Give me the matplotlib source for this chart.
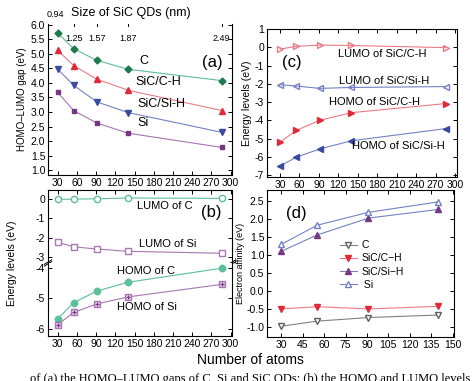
import numpy as np
import matplotlib
matplotlib.use("Agg")
import matplotlib.pyplot as plt
import matplotlib.transforms as mtransforms

plt.rcParams['font.family'] = ['Liberation Sans', 'DejaVu Sans']
plt.rcParams['axes.unicode_minus'] = False
plt.rcParams['xtick.direction'] = 'in'
plt.rcParams['ytick.direction'] = 'in'
plt.rcParams['xtick.labelsize'] = 7.5
plt.rcParams['ytick.labelsize'] = 7.5
plt.rcParams['axes.linewidth'] = 0.8

# number of atoms in the QDs
atoms = [30, 55, 91, 140, 286]
atoms_d = [30, 55, 91, 140]
qd_size = ['0.94', '1.25', '1.57', '1.87', '2.49']

# (a) HOMO-LUMO gap (eV)
gap_c = [5.72, 5.18, 4.78, 4.47, 4.08]
gap_sic_ch = [5.12, 4.60, 4.13, 3.75, 3.05]
gap_sic_sih = [4.48, 3.92, 3.35, 2.98, 2.30]
gap_si = [3.68, 3.05, 2.62, 2.27, 1.78]

# (b) energy levels of C and Si QDs (eV)
lumo_c = [-0.03, -0.02, 0.0, 0.04, 0.02]
lumo_si = [-2.23, -2.47, -2.58, -2.70, -2.80]
homo_c = [-5.67, -5.14, -4.76, -4.47, -4.01]
homo_si = [-5.86, -5.46, -5.18, -4.95, -4.54]

# (c) energy levels of SiC QDs (eV)
lumo_sic_ch = [-0.10, 0.05, 0.12, 0.10, -0.02]
lumo_sic_sih = [-2.05, -2.12, -2.25, -2.20, -2.15]
homo_sic_ch = [-5.20, -4.55, -4.00, -3.58, -3.08]
homo_sic_sih = [-6.50, -6.02, -5.57, -5.12, -4.45]

# (d) electron affinity (eV)
ea_c = [-0.98, -0.84, -0.74, -0.67]
ea_sic_ch = [-0.50, -0.44, -0.50, -0.43]
ea_sic_sih = [1.10, 1.55, 2.02, 2.26]
ea_si = [1.29, 1.82, 2.18, 2.47]

W, H = 474, 381
fig = plt.figure(figsize=(W / 100, H / 100), dpi=100)


def box(l, t, r, b):
    return [l / W, 1 - b / H, (r - l) / W, (b - t) / H]


def style(ax):
    ax.tick_params(top=True, right=True, length=3, width=0.7, pad=2)


GREEN_M, GREEN_L = '#1e7a4c', '#5cbf98'
RED_M, RED_L = '#e02a3a', '#ea7c86'
BLUE_M, BLUE_L = '#3a4a9e', '#7482c4'
PURP_M, PURP_L = '#763884', '#a877b4'

lw = 0.8
ms = 4.5

# ---------------- (a) ----------------
ax_a = fig.add_axes(box(48, 24, 232, 175))
ax_a.plot(atoms, gap_c, '-D', color=GREEN_L, mfc=GREEN_M, mec=GREEN_M, ms=ms - 1, lw=lw)
ax_a.plot(atoms, gap_sic_ch, '-^', color=RED_L, mfc=RED_M, mec=RED_M, ms=ms, lw=lw)
ax_a.plot(atoms, gap_sic_sih, '-v', color=BLUE_L, mfc=BLUE_M, mec=BLUE_M, ms=ms, lw=lw)
ax_a.plot(atoms, gap_si, '-s', color=PURP_L, mfc=PURP_M, mec=PURP_M, ms=ms - 1, lw=lw)
ax_a.set_xlim(15, 302)
ax_a.set_ylim(0.83, 6.03)
ax_a.set_xticks(np.arange(30, 301, 30))
ax_a.set_yticks(np.arange(1.0, 6.01, 0.5))
ax_a.yaxis.set_major_formatter(matplotlib.ticker.FormatStrFormatter('%.1f'))
ax_a.tick_params(right=True, length=3, width=0.7, pad=2)
ax_a.spines['top'].set_visible(False)
ax_a.set_ylabel('HOMO\u2013LUMO gap (eV)', fontsize=7, labelpad=3)
ax_a.text(157, 4.65, 'C', fontsize=9)
ax_a.text(152, 3.93, 'SiC/C-H', fontsize=9)
ax_a.text(154, 3.17, 'SiC/Si-H', fontsize=9)
ax_a.text(154, 2.51, 'Si', fontsize=9)
ax_a.text(271, 4.72, '(a)', fontsize=12, ha='center', va='center')
trans = mtransforms.blended_transform_factory(ax_a.transData, ax_a.transAxes)
for i, (x, s) in enumerate(zip(atoms, qd_size)):
    yy = 1.03 if i == 0 else 0.905
    xx = 26 if i == 0 else x
    ax_a.text(xx, yy, s, transform=trans, ha='center', va='bottom' if i == 0 else 'center',
              fontsize=6.5)
    if i > 0:
        ax_a.plot([x, x], [0.985, 1.0], color='black', lw=0.7, transform=trans, clip_on=False)
ax_a.text(0.45, 1.03, 'Size of SiC QDs (nm)', transform=ax_a.transAxes, ha='center',
          va='bottom', fontsize=9)

# ---------------- (c) ----------------
ax_c = fig.add_axes(box(267, 29, 457, 177))
ax_c.plot(atoms, lumo_sic_ch, '->', color=RED_L, mfc='none', mec=RED_L, ms=ms, lw=lw)
ax_c.plot(atoms, lumo_sic_sih, '-<', color=BLUE_L, mfc='none', mec=BLUE_L, ms=ms, lw=lw)
ax_c.plot(atoms, homo_sic_ch, '->', color=RED_L, mfc=RED_M, mec=RED_M, ms=ms, lw=lw)
ax_c.plot(atoms, homo_sic_sih, '-<', color=BLUE_L, mfc=BLUE_M, mec=BLUE_M, ms=ms, lw=lw)
ax_c.set_xlim(10, 303)
ax_c.set_ylim(-7.1, 1.0)
ax_c.set_xticks(np.arange(30, 301, 30))
ax_c.set_yticks(np.arange(-7, 1.1, 1))
style(ax_c)
ax_c.set_ylabel('Energy levels (eV)', fontsize=7.5, labelpad=2)
ax_c.text(119, -0.37, 'LUMO of SiC/C-H', fontsize=8, va='center')
ax_c.text(33, -0.83, '(c)', fontsize=12, va='center')
ax_c.text(121, -1.83, 'LUMO of SiC/Si-H', fontsize=8, va='center')
ax_c.text(106, -3.0, 'HOMO of SiC/C-H', fontsize=8, va='center')
ax_c.text(141, -5.41, 'HOMO of SiC/Si-H', fontsize=8, va='center')

# ---------------- (b) broken axis ----------------
ax_bt = fig.add_axes(box(48, 190, 232, 263))
ax_bb = fig.add_axes(box(48, 263, 232, 336))
for ax in (ax_bt, ax_bb):
    ax.plot(atoms, lumo_c, '-o', color=GREEN_L, mfc='white', mec=GREEN_L, ms=ms, lw=lw)
    ax.plot(atoms, lumo_si, '-s', color=PURP_L, mfc='white', mec=PURP_L, ms=ms - 0.5, lw=lw)
    ax.plot(atoms, homo_c, '-o', color=GREEN_L, mfc='#bfe8d6', mec=GREEN_L, ms=ms, lw=lw)
    ax.plot(atoms, homo_c, 'P', color=GREEN_L, ms=ms - 0.5, lw=0)
    ax.plot(atoms, homo_si, '-s', color=PURP_L, mfc='#e3cbe8', mec=PURP_L, ms=ms - 0.5, lw=lw)
    ax.plot(atoms, homo_si, '+', color=PURP_M, ms=ms - 1, mew=0.8)
    ax.set_xlim(15, 302)
    ax.set_xticks(np.arange(30, 301, 30))
    style(ax)
ax_bt.set_ylim(-3.3, 0.45)
ax_bt.set_yticks([0, -1, -2, -3])
ax_bt.spines['bottom'].set_visible(False)
ax_bt.tick_params(bottom=False, labelbottom=False)
ax_bb.set_ylim(-6.23, -3.84)
ax_bb.set_yticks([-4, -5, -6])
ax_bb.spines['top'].set_visible(False)
ax_bb.tick_params(top=False)
for xa in (0, 1):
    for dy in (-0.012, 0.012):
        ax_bt.plot([xa - 0.02, xa + 0.02], [dy - 0.03, dy + 0.03], color='black', lw=0.7,
                   transform=ax_bt.transAxes, clip_on=False)
ax_bt.text(154, -0.38, 'LUMO of C', fontsize=8, va='center')
ax_bt.text(269, -0.7, '(b)', fontsize=12, ha='center', va='center')
ax_bt.text(157, -2.31, 'LUMO of Si', fontsize=8, va='center')
ax_bb.text(123, -4.11, 'HOMO of C', fontsize=8, va='center')
ax_bb.text(122, -5.29, 'HOMO of Si', fontsize=8, va='center')
fig.text(12 / W, 1 - 263 / H, 'Energy levels (eV)', rotation=90, ha='center', va='center',
         fontsize=7.5)

# ---------------- (d) ----------------
ax_d = fig.add_axes(box(267, 190, 454, 337))
ax_d.plot(atoms_d, ea_c, '-v', color='#808080', mfc='white', mec='#606060', ms=ms, lw=lw, label='C')
ax_d.plot(atoms_d, ea_sic_ch, '-v', color=RED_L, mfc=RED_M, mec=RED_M, ms=ms, lw=lw, label='SiC/C\u2212H')
ax_d.plot(atoms_d, ea_sic_sih, '-^', color=BLUE_L, mfc=PURP_M, mec=PURP_M, ms=ms, lw=lw, label='SiC/Si\u2212H')
ax_d.plot(atoms_d, ea_si, '-^', color=BLUE_L, mfc='white', mec=BLUE_L, ms=ms, lw=lw, label=' Si')
ax_d.set_xlim(20, 151)
ax_d.set_ylim(-1.28, 2.8)
ax_d.set_xticks(np.arange(30, 151, 15))
ax_d.set_yticks(np.arange(-1.0, 2.51, 0.5))
ax_d.yaxis.set_major_formatter(matplotlib.ticker.FormatStrFormatter('%.1f'))
style(ax_d)
ax_d.set_ylabel('Electron affinity (eV)', fontsize=6.5, labelpad=1)
ax_d.text(33, 2.16, '(d)', fontsize=12, va='center')
ax_d.legend(loc='center left', bbox_to_anchor=(0.36, 0.49), frameon=False, fontsize=7.5,
            handlelength=1.7, handletextpad=0.4, labelspacing=0.3, borderpad=0)

fig.text(250 / W, 1 - 360 / H, 'Number of atoms', ha='center', va='center', fontsize=10)
fig.text(30 / W, 1 - 373 / H,
         'of (a) the HOMO\u2013LUMO gaps of C, Si and SiC QDs; (b) the HOMO and LUMO levels of C and Si',
         family=['Liberation Serif', 'DejaVu Serif'], fontsize=9, va='top', ha='left')

fig.savefig('out.png', dpi=100)
